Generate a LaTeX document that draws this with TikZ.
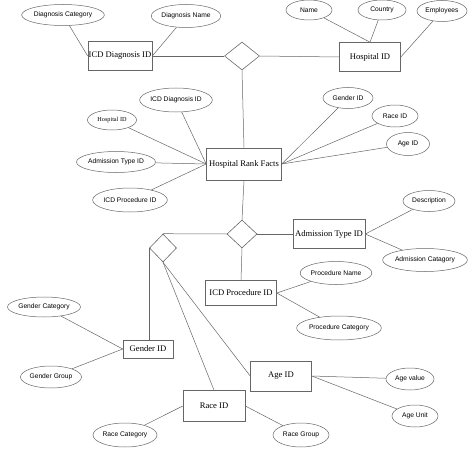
\documentclass[tikz,border=0pt]{standalone}
\usepackage{fontspec}
\setmainfont{Liberation Serif}
\newfontfamily\attrfont{Liberation Sans}
\usetikzlibrary{shapes.geometric}
\begin{document}
\begin{tikzpicture}[x=1pt,y=-1pt,
  wh/.style 2 args={minimum width=#1pt,minimum height=#2pt},
  ent/.style={draw=black!60, line width=0.6pt, rectangle, inner sep=0pt, font=\fontsize{8.6}{10}\selectfont},
  attr/.style={draw=black!60, line width=0.5pt, ellipse, inner sep=0pt, font=\attrfont\fontsize{6.7}{8}\selectfont},
  attrserif/.style={attr, font=\fontsize{6.2}{7}\selectfont},
  rel/.style={draw=black!60, line width=0.6pt, diamond, inner sep=0pt},
  conn/.style={draw=black!60, line width=0.5pt}]
\useasboundingbox (0,0) rectangle (474,452);
% top
\node[attr, wh={78}{21}] (dcat) at (63,15) {Diagnosis Category};
\node[attr, wh={68}{23}] (dname) at (186,16) {Diagnosis Name};
\node[attr, wh={46}{20}] (hname) at (309,10) {Name};
\node[attr, wh={48}{20}] (hcountry) at (382,10) {Country};
\node[attr, wh={50}{21}] (hemp) at (442,11) {Employees};
\node[ent, wh={64}{29}] (icdd) at (120,56) {ICD Diagnosis ID};
\node[rel, wh={35}{28}] (td) at (242,56) {};
\node[ent, wh={61}{29}] (hosp) at (370,57) {Hospital ID};
% fact
\node[ent, wh={75}{32}] (hrf) at (244,164) {Hospital Rank Facts};
\node[attr, wh={72}{24}] (a1) at (176,100) {ICD Diagnosis ID};
\node[attrserif, wh={49}{20}] (a2) at (112,120) {Hospital ID};
\node[attr, wh={77}{21}] (a3) at (116,162) {Admission Type ID};
\node[attr, wh={71}{24}] (a4) at (130,200) {ICD Procedure ID};
\node[attr, wh={50}{21}] (a5) at (348,98) {Gender ID};
\node[attr, wh={46}{22}] (a6) at (395,116) {Race ID};
\node[attr, wh={43}{23}] (a7) at (408,144) {Age ID};
% middle
\node[rel, wh={30}{28}] (cd) at (242,234) {};
\node[ent, wh={72}{29}] (atid) at (329,234) {Admission Type ID};
\node[attr, wh={52}{21}] (desc) at (429,201) {Description};
\node[attr, wh={81}{23}] (acat) at (425,260) {Admission Catagory};
\node[rel, wh={27}{28}] (sd) at (163,248) {};
\node[ent, wh={71}{25}] (icdp) at (241,293) {ICD Procedure ID};
\node[attr, wh={67}{23}] (pname) at (336,273) {Procedure Name};
\node[attr, wh={84}{24}] (pcat) at (339,328) {Procedure Category};
% bottom
\node[ent, wh={50}{18}] (gid) at (148,349) {Gender ID};
\node[attr, wh={73}{20}] (gcat) at (44,307) {Gender Category};
\node[attr, wh={61}{22}] (ggrp) at (51,377) {Gender Group};
\node[ent, wh={62}{31}] (rid) at (214,406) {Race ID};
\node[attr, wh={64}{24}] (rcat) at (125,435) {Race Category};
\node[attr, wh={56}{24}] (rgrp) at (301,435) {Race Group};
\node[ent, wh={61}{30}] (ageid) at (281,376) {Age ID};
\node[attr, wh={48}{22}] (aval) at (410,379) {Age value};
\node[attr, wh={46}{22}] (aunit) at (415,416) {Age Unit};
% connectors
\draw[conn] (icdd.west) -- (dcat);
\draw[conn] (icdd.east) -- (dname);
\draw[conn] (icdd.east) -- (td.west);
\draw[conn] (td.east) -- (hosp.west);
\draw[conn] (hosp.north) -- (hname);
\draw[conn] (hosp.north) -- (hcountry);
\draw[conn] (hosp.east) -- (hemp);
\draw[conn] (td.south) -- (hrf.north);
\draw[conn] (hrf.south) -- (cd.north);
\foreach \a in {a1,a2,a3,a4} \draw[conn] (hrf.west) -- (\a);
\foreach \a in {a5,a6,a7} \draw[conn] (hrf.east) -- (\a);
\draw[conn] (cd.east) -- (atid.west);
\draw[conn] (atid.east) -- (desc);
\draw[conn] (atid.east) -- (acat);
\draw[conn] (cd.south) -- (icdp.north);
\draw[conn] (icdp.east) -- (pname);
\draw[conn] (icdp.east) -- (pcat);
\draw[conn] (cd.west) -- (sd.north);
\draw[conn, line width=0.7pt] (sd.west) -- (sd.west |- gid.north);
\draw[conn] (sd.south) -- (rid.north);
\draw[conn] (sd.south) -- (ageid.west);
\draw[conn] (gid.west) -- (gcat);
\draw[conn] (gid.west) -- (ggrp);
\draw[conn] (rid.west) -- (rcat);
\draw[conn] (rid.east) -- (rgrp);
\draw[conn] (ageid.east) -- (aval);
\draw[conn] (ageid.east) -- (aunit);
\end{tikzpicture}
\end{document}
